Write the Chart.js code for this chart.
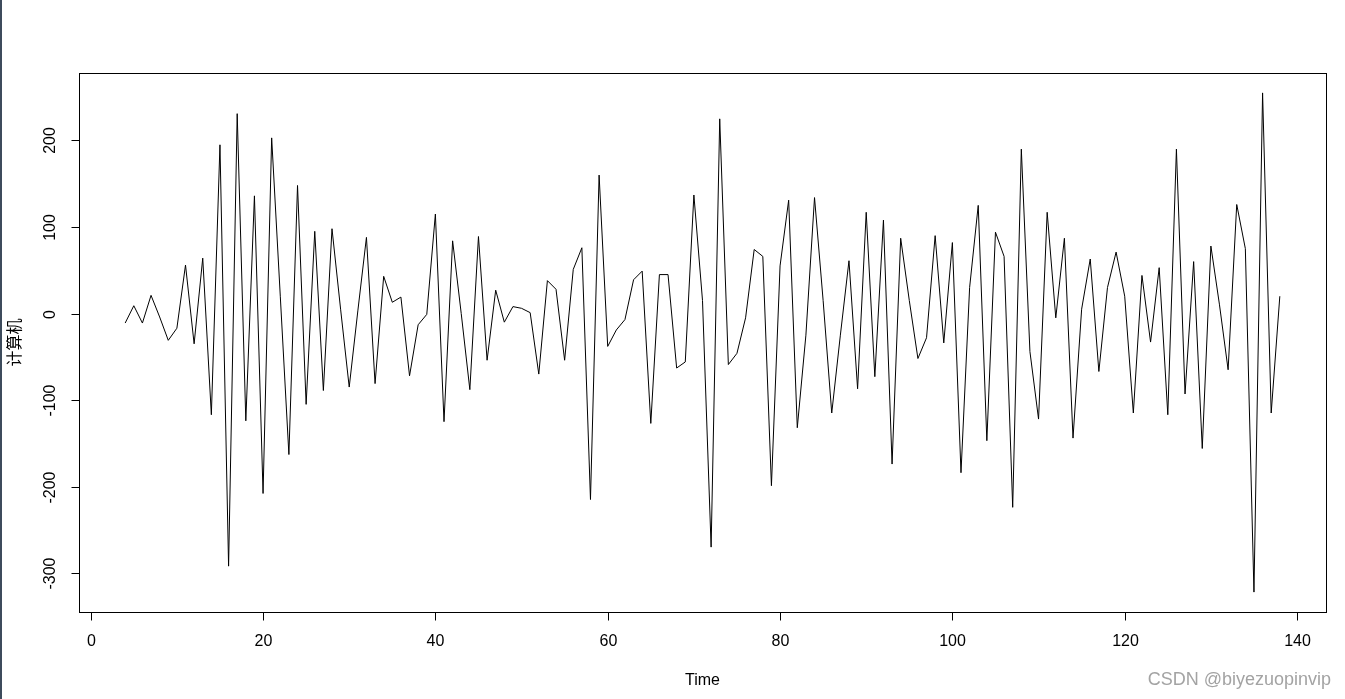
<!DOCTYPE html>
<html>
<head>
<meta charset="utf-8">
<script src="https://cdn.jsdelivr.net/npm/chart.js@4.4.0/dist/chart.umd.min.js"></script>
<style>
  html, body { margin: 0; padding: 0; background: #fff; }
  #wrap { position: relative; width: 1345px; height: 699px; }
  #wrap:before { content: ''; position: absolute; left: 0; top: 0; width: 2px; height: 699px; background: #3d4b5c; }
</style>
</head>
<body>
<div id="wrap"><canvas id="tsChart" width="1345" height="699"></canvas></div>
<script>
// ts starts at time 4, one value per step
const timeStart = 4;
const values = [
  -11, 9, -11, 21, -4, -31, -17, 56, -35, 64,          // 4-13
  -117, 195, -292, 231, -124, 136, -208, 203, 20, -163, // 14-23
  148, -105, 95, -89, 98, 5, -85, 3, 88, -81,           // 24-33
  43, 13, 19, -72, -13, -1, 115, -125, 84, 0,           // 34-43
  -88, 89, -54, 27, -10, 8, 6, 1, -70, 38,              // 44-53
  28, -54, 51, 76, -215, 160, -38, -19, -7, 39,         // 54-63
  49, -127, 45, 45, -63, -56, 137, 15, -270, 225,       // 64-73
  -59, -46, -5, 74, 66, -199, 55, 131, -132, -25,       // 74-83
  134, 15, -115, -25, 61, -87, 117, -73, 108, -174,     // 84-93
  87, 15, -52, -28, 90, -34, 82, -184, 30, 125,         // 94-103
  -147, 94, 66, -224, 190, -44, -122, 117, -5, 87,      // 104-113
  -144, 5, 63, -67, 30, 71, 20, -115, 44, -33,          // 114-123
  53, -117, 190, -93, 60, -156, 78, 10, -65, 126,       // 124-133
  75, -322, 255, -115, 20                               // 134-138
];
const times = values.map((v, i) => timeStart + i);

const xTicks = [0, 20, 40, 60, 80, 100, 120, 140];
const yTicks = [-300, -200, -100, 0, 100, 200];
const xTitle = 'Time';
const yTitle = '计算机';
const watermark = 'CSDN @biyezuopinvip';

// R pads the data range by 4% on each side
const xMin = -1.36, xMax = 143.36;
const yMin = -345, yMax = 278;

const FONT = '16px "Liberation Sans", Arial, sans-serif';
const TICK = 8;

// base-R style box, ticks, rotated y labels
const rAxes = {
  id: 'rAxes',
  afterDraw(chart) {
    const c = chart.ctx;
    const a = chart.chartArea;
    const xs = chart.scales.x, ys = chart.scales.y;
    c.save();
    c.strokeStyle = '#000';
    c.fillStyle = '#000';
    c.lineWidth = 1;
    c.strokeRect(Math.round(a.left) + 0.5, Math.round(a.top) + 0.5,
      Math.round(a.right - a.left), Math.round(a.bottom - a.top));

    c.font = FONT;
    c.textAlign = 'center';
    c.textBaseline = 'middle';
    const bot = Math.round(a.bottom) + 0.5;
    xTicks.forEach(v => {
      const px = Math.round(xs.getPixelForValue(v)) + 0.5;
      c.beginPath(); c.moveTo(px, bot); c.lineTo(px, bot + TICK); c.stroke();
      c.fillText(String(v), px, bot + 29);
    });

    const lft = Math.round(a.left) + 0.5;
    yTicks.forEach(v => {
      const py = Math.round(ys.getPixelForValue(v)) + 0.5;
      c.beginPath(); c.moveTo(lft - TICK, py); c.lineTo(lft, py); c.stroke();
      c.save();
      c.translate(lft - 29, py);
      c.rotate(-Math.PI / 2);
      c.fillText(String(v), 0, 0);
      c.restore();
    });

    c.fillText(xTitle, (a.left + a.right) / 2, 681);
    c.save();
    c.translate(14, (a.top + a.bottom) / 2);
    c.rotate(-Math.PI / 2);
    c.font = '16px "Noto Sans CJK SC", sans-serif';
    c.fillText(yTitle, 0, 0);
    c.restore();

    c.font = '18px "Liberation Sans", Arial, sans-serif';
    c.textAlign = 'right';
    c.fillStyle = '#a3a3a3';
    c.fillText(watermark, 1331, 680);
    c.restore();
  }
};

new Chart(document.getElementById('tsChart'), {
  type: 'line',
  data: {
    datasets: [{
      data: times.map((t, i) => ({ x: t, y: values[i] })),
      borderColor: '#000',
      borderWidth: 1,
      pointRadius: 0,
      tension: 0,
      fill: false
    }]
  },
  options: {
    responsive: false,
    animation: false,
    layout: { padding: { left: 79, top: 73, right: 19, bottom: 87 } },
    plugins: { legend: { display: false }, tooltip: { enabled: false } },
    scales: {
      x: { type: 'linear', min: xMin, max: xMax, display: false },
      y: { type: 'linear', min: yMin, max: yMax, display: false }
    }
  },
  plugins: [rAxes]
});
</script>
</body>
</html>
